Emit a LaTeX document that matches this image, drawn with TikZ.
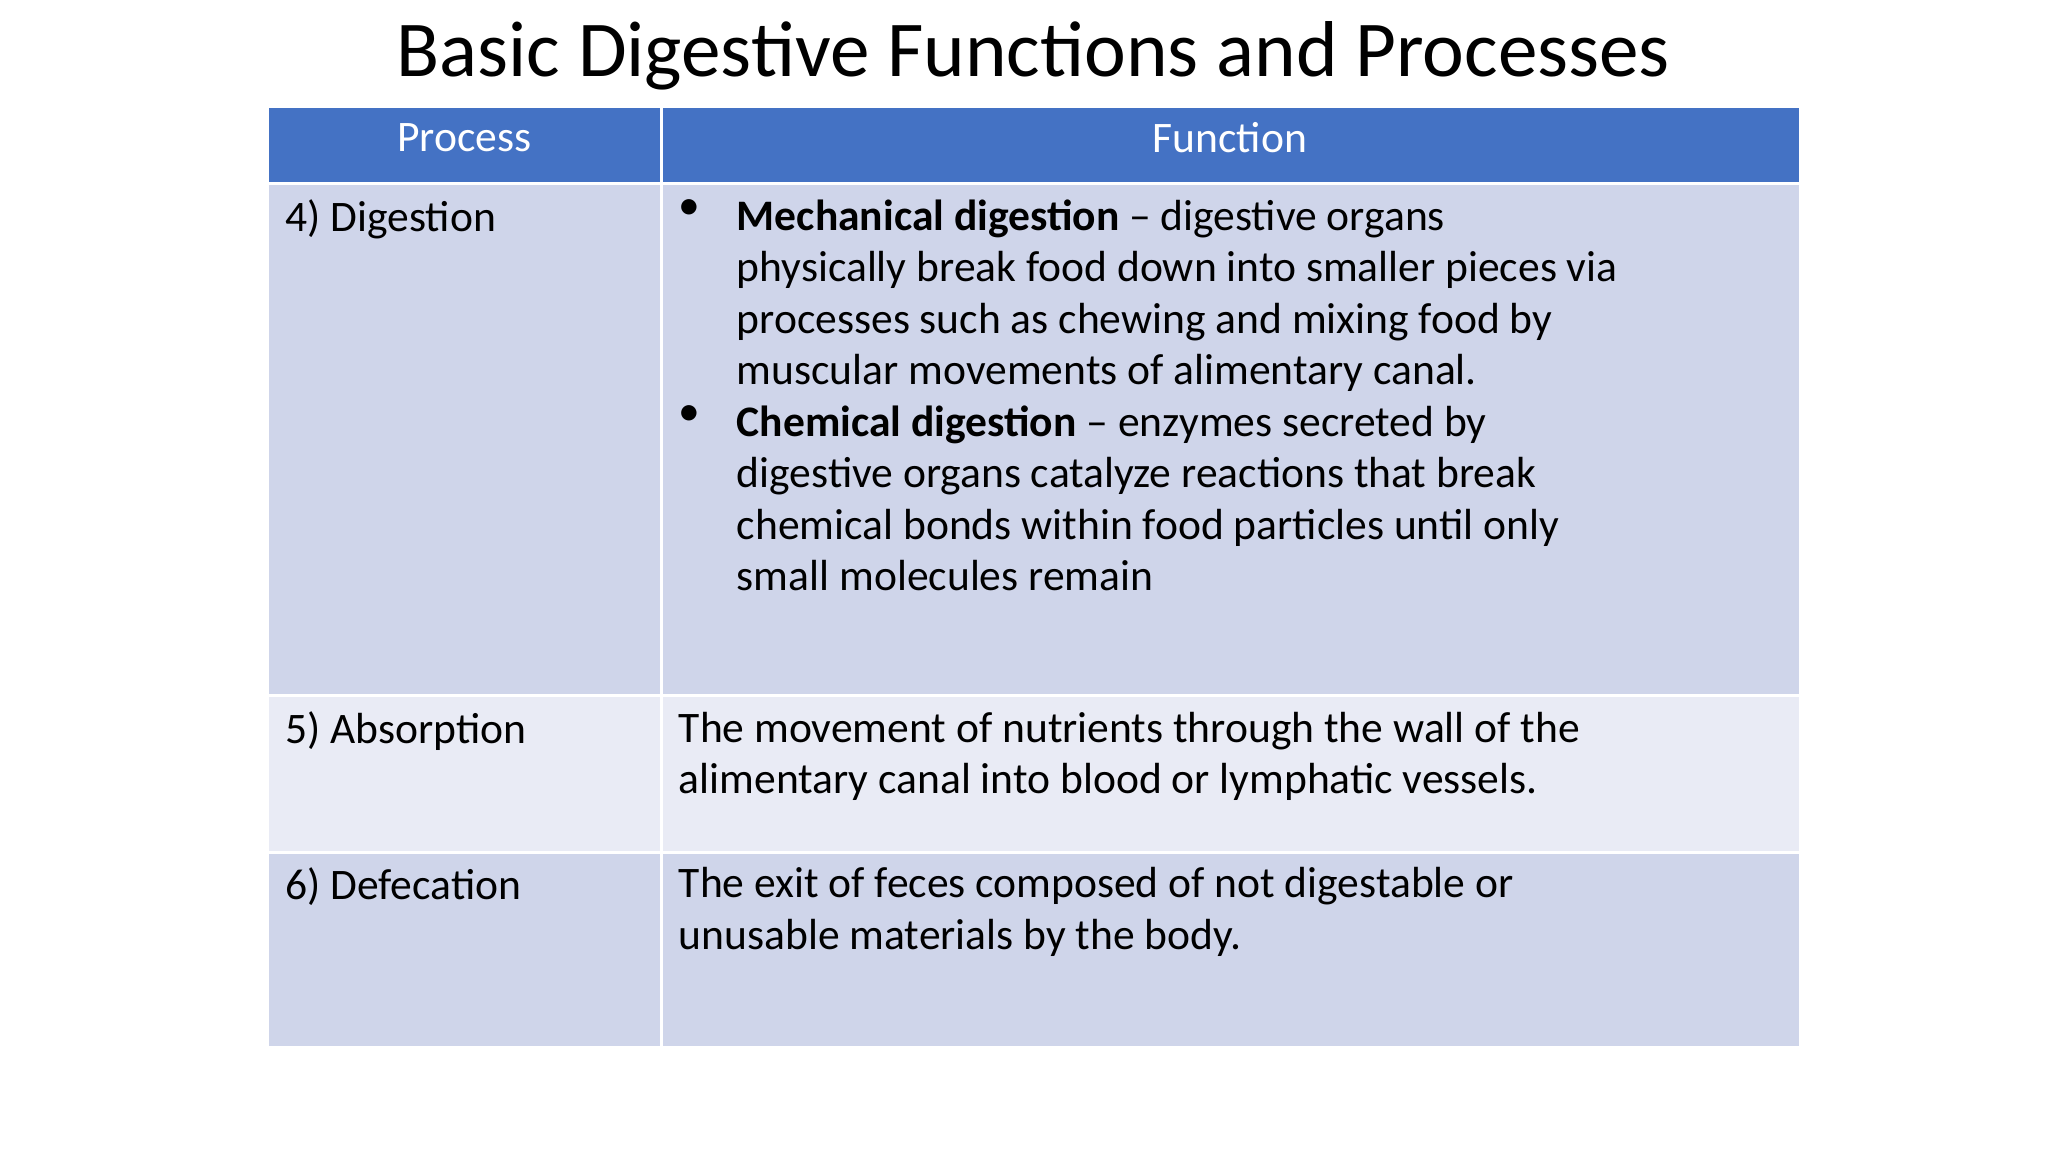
\documentclass[tikz,border=0pt]{standalone}
\usepackage{fontspec}
\setmainfont{Carlito}
\begin{document}
\begin{tikzpicture}[x=0.5pt,y=-0.5pt,
  cell/.style={draw=white,line width=1pt},
  txt/.style={anchor=north west,inner sep=0pt,align=left,font=\fontsize{16.5pt}{19.5pt}\selectfont},
  hd/.style={text=white,font=\fontsize{16.5pt}{19.5pt}\selectfont}]
\useasboundingbox (0,0) rectangle (1552,873);
\definecolor{hdr}{HTML}{4472C4}
\definecolor{rowa}{HTML}{CFD5EA}
\definecolor{rowb}{HTML}{E9EBF5}
\node[font=\fontsize{30pt}{36pt}\selectfont] (title) at (783,42) {Basic Digestive Functions and Processes};
\fill[hdr] (204,82) rectangle (1363,139);
\fill[rowa] (204,139) rectangle (1363,527);
\fill[rowb] (204,527) rectangle (1363,646);
\fill[rowa] (204,646) rectangle (1363,793);
\draw[white,line width=1.2pt] (501,82) -- (501,793) (204,139) -- (1363,139) (204,527) -- (1363,527) (204,646) -- (1363,646);
\node[hd] (h1) at (352,104) {Process};
\node[hd] (h2) at (932,104) {Function};
\node[txt] (p4) at (216,151) {4) Digestion};
\node[txt] (p5) at (216,539) {5) Absorption};
\node[txt] (p6) at (216,657) {6) Defecation};
\node[txt] (b1) at (514,151) {\textbullet};
\node[txt] (b2) at (514,307) {\textbullet};
\node[txt] (f1) at (558,151) {\textbf{Mechanical digestion} -- digestive organs\\physically break food down into smaller pieces via\\processes such as chewing and mixing food by\\muscular movements of alimentary canal.};
\node[txt] (f2) at (558,307) {\textbf{Chemical digestion} -- enzymes secreted by\\digestive organs catalyze reactions that break\\chemical bonds within food particles until only\\small molecules remain};
\node[txt] (f3) at (514,539) {The movement of nutrients through the wall of the\\alimentary canal into blood or lymphatic vessels.};
\node[txt] (f4) at (514,657) {The exit of feces composed of not digestable or\\unusable materials by the body.};
\end{tikzpicture}
\end{document}
